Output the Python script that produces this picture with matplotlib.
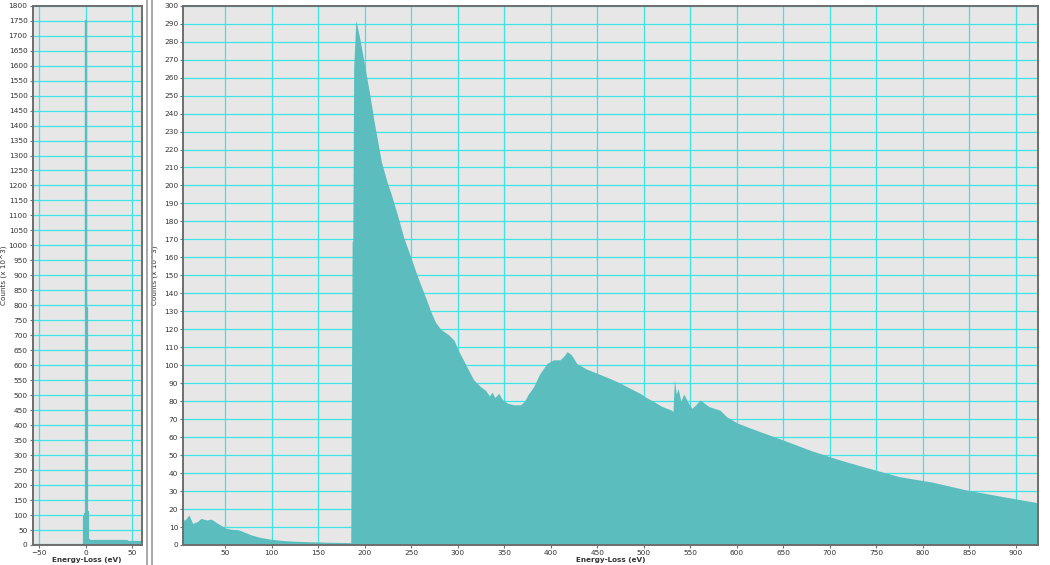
import matplotlib
matplotlib.use("Agg")
import matplotlib.pyplot as plt
import numpy as np

# low-loss window (zero-loss peak)
low_e = [-56, -2.0, -1.5, -1.0, -0.5, 0.0, 0.5, 1.0, 1.5, 2.0, 2.5, 3.0, 3.5, 5, 8, 12,
         18, 25, 32, 40, 48, 55, 60]
low_c = [0, 0, 2, 95, 105, 102, 1750, 790, 115, 110, 45, 16, 13, 12, 14, 13,
         12, 13, 15, 12, 11, 10, 10]

# core-loss window
core_e = [5, 7, 11, 15, 20, 24, 30, 35, 42, 51, 57, 64, 70, 78, 88, 99, 110, 121,
          135, 149, 165, 185, 186.5, 187.2, 188.2, 190.5, 195, 199.5, 205, 210,
          218, 224.6, 228, 235, 242, 249.6, 255, 260, 266, 271, 276, 281.7, 290,
          296, 300, 306, 310, 317, 324.7, 330, 334, 337, 340, 344, 348, 353, 360,
          367.6, 372, 376, 381.6, 388, 396, 403, 410, 414, 417.7, 422, 428, 438,
          450, 462, 475, 486, 496, 503, 510.6, 520, 530, 531.5, 533, 535, 537,
          540, 543, 544.6, 548, 551.8, 556, 560.7, 570, 582, 589, 600, 620, 650,
          680, 711, 740, 775, 810, 847, 885, 924]
core_c = [14, 14, 16.7, 12, 13, 14.8, 13.9, 14.4, 12, 9.3, 8.7, 8.5, 7.3, 5.6, 4.2,
          3.2, 2.6, 2.2, 1.9, 1.7, 1.5, 1.3, 169, 169, 266, 292, 281, 268, 252,
          236, 213, 201, 196, 184, 171, 160, 152, 145, 137, 130, 124, 120, 117,
          114, 109, 103, 99, 92, 88, 86, 83, 85, 82, 84.4, 81, 79, 78, 78, 80,
          84, 88, 95, 101, 103, 103, 105, 107.6, 106, 101, 98, 95.5, 93, 90, 87,
          84.4, 82, 79.8, 77, 75, 74, 92, 84, 87, 80, 84, 82.5, 79, 76, 78, 80.7,
          77, 75, 71.4, 68, 64, 58.4, 52.5, 47.3, 43, 38, 35, 30.6, 27, 23.5]

fill_col = "#5bbdbd"
grid_col = "#3fe3e3"
bg_col = "#e7e7e7"
spine_col = "#6e6e6e"
txt_col = "#333333"

fig = plt.figure(figsize=(10.5, 5.65), dpi=100)
ax1 = fig.add_axes([0.0312, 0.0354, 0.1036, 0.9545])
ax2 = fig.add_axes([0.1746, 0.0354, 0.8140, 0.9545])

for ax in (ax1, ax2):
    ax.set_facecolor(bg_col)
    ax.grid(True, color=grid_col, linewidth=0.9)
    ax.set_axisbelow(True)
    for s in ax.spines.values():
        s.set_color(spine_col)
        s.set_linewidth(1.4)
    ax.tick_params(labelsize=5.3, length=2.5, width=0.8, colors=spine_col,
                   labelcolor=txt_col, pad=1.2)
    ax.set_ylabel("Counts (x 10^3)", fontsize=5.2, color=txt_col)
    ax.set_xlabel("Energy-Loss (eV)", fontsize=5.2, fontweight="bold",
                  color=txt_col, labelpad=0.5)

ax1.fill_between(low_e, low_c, 0, step="mid", color=fill_col, linewidth=0)
ax1.plot(low_e, low_c, drawstyle="steps-mid", color=fill_col, linewidth=1.6)
ax1.set_xlim(-56.5, 60)
ax1.set_ylim(0, 1800)
ax1.set_xticks([-50, 0, 50])
ax1.set_yticks(np.arange(0, 1801, 50))
ax1.yaxis.set_label_coords(-0.235, 0.5)

ax2.fill_between(core_e, core_c, 0, color=fill_col, linewidth=0)
ax2.set_xlim(5, 924)
ax2.set_ylim(0, 300)
ax2.set_xticks(np.arange(50, 901, 50))
ax2.set_yticks(np.arange(0, 301, 10))
ax2.yaxis.set_label_coords(-0.03, 0.5)

# panel separator
for xp in (0.1397, 0.1444):
    fig.add_artist(plt.Line2D([xp, xp], [0, 1], transform=fig.transFigure,
                              color="#9a9a9a", linewidth=1.2))

fig.savefig("out.png", dpi=100)
